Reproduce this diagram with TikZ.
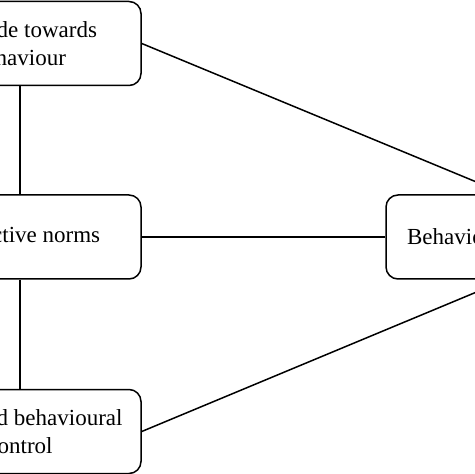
\documentclass[tikz,border=0pt]{standalone}
\usepackage{fontspec}
\setmainfont{Liberation Serif}
\begin{document}
\begin{tikzpicture}[x=0.5pt,y=-0.5pt,
	factor/.style={draw, line width=0.75pt, rounded corners=6pt, minimum width=121pt, minimum height=42pt, inner sep=0pt, align=center, font=\fontsize{11.5}{14}\selectfont},
	link/.style={line width=0.75pt}]
\useasboundingbox (0,0) rectangle (474,474);

\node[factor] (att) at (20,43.5) {Attitude towards\\behaviour};
\node[factor] (subj) at (20,237) {Subjective norms};
\node[factor] (pbc) at (20,431.5) {Perceived behavioural\\control};
\node[factor, minimum width=69pt] (beh) at (455,237) {Behaviour};

\draw[link] (att.south) -- (subj.north);
\draw[link] (subj.south) -- (pbc.north);

\draw[link] (att.east) -- ([xshift=25.5pt]beh.north);
\draw[link] (subj.east) -- (beh.west);
\draw[link] (pbc.east) -- ([xshift=25.5pt]beh.south);
\end{tikzpicture}
\end{document}
